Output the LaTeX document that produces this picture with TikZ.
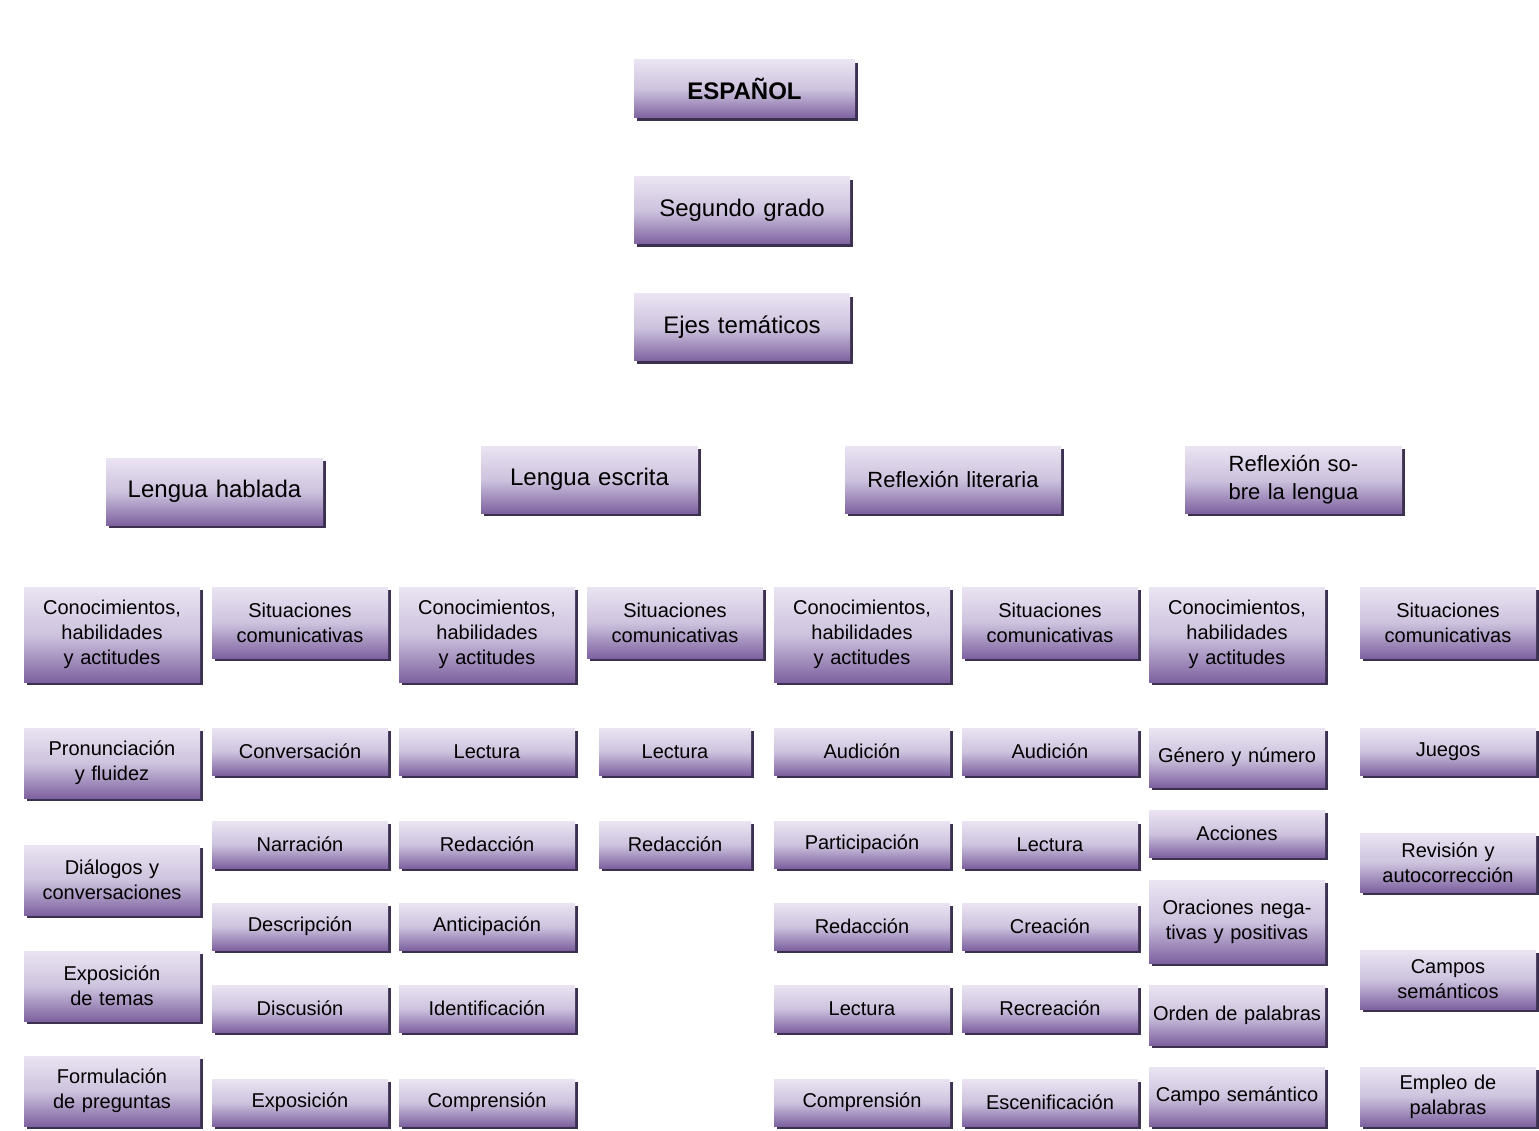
\documentclass[tikz,border=0pt]{standalone}
\usepackage{fontspec}
\setmainfont{Liberation Sans}
\usetikzlibrary{shadows,backgrounds}
\definecolor{topc}{RGB}{234,228,242}
\definecolor{botc}{RGB}{126,98,160}
\definecolor{shc}{RGB}{60,48,80}
\definecolor{lnc}{RGB}{79,129,189}
\tikzset{box/.style={draw=none,top color=topc,bottom color=botc,middle color={rgb,255:red,205;green,195;blue,222},inner sep=0pt,align=center,
  drop shadow={shadow xshift=3pt,shadow yshift=-3pt,fill=shc,opacity=1},font=\fontsize{20}{25}\selectfont},
  big/.style={font=\fontsize{24}{28}\selectfont},
  ln/.style={draw=lnc,line width=1.5pt}}
\newcommand\bx[7][]{\pgfmathsetmacro\ww{#4-#2}\pgfmathsetmacro\hh{#6-#3}\pgfmathsetmacro\tw{#4-#2-6}%
\node[box,#1,minimum width=\ww pt,minimum height=\hh pt,text width=\tw pt] (#7) at ({(#2+#4)/2},{(#3+#6)/2}) {#5};}
\begin{document}
\begin{tikzpicture}[x=1pt,y=-1pt]
\useasboundingbox[fill=white] (0,0) rectangle (1539,1131);
\bx[big]{634}{60}{855}{\textbf{ESPAÑOL}}{118}{esp}
\bx[big]{634}{177}{850}{Segundo grado}{244}{sg}
\bx[big]{634}{294}{850}{Ejes temáticos}{361}{ej}
\bx[big]{106}{458}{323}{Lengua hablada}{525}{lh}
\bx[big]{481}{446}{698}{Lengua escrita}{513}{le}
\bx[font=\fontsize{22}{28}\selectfont]{845}{446}{1061}{Reflexión literaria}{513}{rl}
\bx[font=\fontsize{22}{28}\selectfont]{1185}{446}{1402}{Reflexión sobre la lengua}{513}{rs}
% row 3
\bx{24}{587}{200}{Conocimientos, habilidades y actitudes}{682}{c1}
\bx{212}{587}{388}{Situaciones comunicativas}{658}{c2}
\bx{399}{587}{575}{Conocimientos, habilidades y actitudes}{682}{c3}
\bx{587}{587}{763}{Situaciones comunicativas}{658}{c4}
\bx{774}{587}{950}{Conocimientos, habilidades y actitudes}{682}{c5}
\bx{962}{587}{1138}{Situaciones comunicativas}{658}{c6}
\bx{1149}{587}{1325}{Conocimientos, habilidades y actitudes}{682}{c7}
\bx{1360}{587}{1536}{Situaciones comunicativas}{658}{c8}
% col1
\bx{24}{728}{200}{Pronunciación y fluidez}{798}{a1}
\bx{24}{845}{200}{Diálogos y conversaciones}{915}{a2}
\bx{24}{951}{200}{Exposición de temas}{1021}{a3}
\bx{24}{1056}{200}{Formulación de preguntas}{1126}{a4}
% col2
\bx{212}{728}{388}{Conversación}{775}{b1}
\bx{212}{821}{388}{Narración}{868}{b2}
\bx{212}{903}{388}{Descripción}{950}{b3}
\bx{212}{985}{388}{Discusión}{1032}{b4}
\bx{212}{1079}{388}{Exposición}{1126}{b5}
% col3
\bx{399}{728}{575}{Lectura}{775}{d1}
\bx{399}{821}{575}{Redacción}{868}{d2}
\bx{399}{903}{575}{Anticipación}{950}{d3}
\bx{399}{985}{575}{Identificación}{1032}{d4}
\bx{399}{1079}{575}{Comprensión}{1126}{d5}
% col4
\bx{599}{728}{751}{Lectura}{775}{e1}
\bx{599}{821}{751}{Redacción}{868}{e2}
% col5
\bx{774}{728}{950}{Audición}{775}{f1}
\bx{774}{821}{950}{Participación}{868}{f2}
\bx{774}{903}{950}{Redacción}{950}{f3}
\bx{774}{985}{950}{Lectura}{1032}{f4}
\bx{774}{1079}{950}{Comprensión}{1126}{f5}
% col6
\bx{962}{728}{1138}{Audición}{775}{g1}
\bx{962}{821}{1138}{Lectura}{868}{g2}
\bx{962}{903}{1138}{Creación}{950}{g3}
\bx{962}{985}{1138}{Recreación}{1032}{g4}
\bx{962}{1079}{1138}{Escenificación}{1126}{g5}
% col7
\bx{1149}{728}{1325}{Género y número}{787}{h1}
\bx{1149}{810}{1325}{Acciones}{857}{h2}
\bx{1149}{880}{1325}{Oraciones negativas y positivas}{963}{h3}
\bx{1149}{985}{1325}{Orden de palabras}{1045}{h4}
\bx{1149}{1067}{1325}{Campo semántico}{1126}{h5}
% col8
\bx{1360}{728}{1536}{Juegos}{775}{k1}
\bx{1360}{833}{1536}{Revisión y autocorrección}{892}{k2}
\bx{1360}{950}{1536}{Campos semánticos}{1009}{k3}
\bx{1360}{1067}{1536}{Empleo de palabras}{1126}{k4}
\begin{scope}[on background layer]
\draw[ln] (739,118) -- (sg.north);
\draw[ln] (sg.south) -- (ej.north);
\foreach \t in {lh,le,rl,rs} \draw[ln] (ej.south) -- (\t.north);
\draw[ln] (lh.south) -- (c1.north); \draw[ln] (lh.south) -- (c2.north);
\draw[ln] (le.south) -- (c3.north); \draw[ln] (le.south) -- (c4.north);
\draw[ln] (rl.south) -- (c5.north); \draw[ln] (rl.south) -- (c6.north);
\draw[ln] (rs.south) -- (c7.north); \draw[ln] (rs.south) -- (c8.north);
\draw[ln] (c1.south) -- (a4.north);
\draw[ln] (c2.south) -- (b5.north);
\draw[ln] (c3.south) -- (d5.north);
\draw[ln] (c4.south) -- (e2.north);
\draw[ln] (c5.south) -- (f5.north);
\draw[ln] (c6.south) -- (g5.north);
\draw[ln] (c7.south) -- (h5.north);
\draw[ln] (c8.south) -- (k4.north);
\end{scope}
\end{tikzpicture}
\end{document}
